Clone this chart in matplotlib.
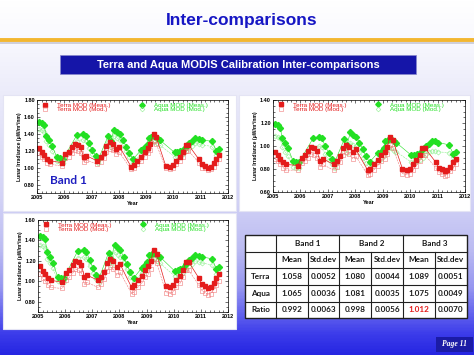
import numpy as np
import matplotlib.pyplot as plt
from matplotlib.patches import Rectangle
from matplotlib.lines import Line2D
from matplotlib.colors import LinearSegmentedColormap
from matplotlib.ticker import MultipleLocator, AutoMinorLocator, FormatStrFormatter

plt.rcParams['font.family'] = ['Liberation Sans', 'DejaVu Sans']

W, H = 474, 355

# lunar observation times (decimal year)
terra_years = [2005.07, 2005.17, 2005.27, 2005.38, 2005.49, 2005.90, 2006.04, 2006.16,
               2006.28, 2006.38, 2006.50, 2006.60, 2006.71, 2006.81, 2007.21, 2007.33,
               2007.44, 2007.54, 2007.66, 2007.78, 2007.90, 2008.02, 2008.45, 2008.55,
               2008.67, 2008.82, 2008.94, 2009.07, 2009.15, 2009.27, 2009.37, 2009.72,
               2009.88, 2009.98, 2010.10, 2010.23, 2010.35, 2010.45, 2010.55, 2010.93,
               2011.04, 2011.16, 2011.26, 2011.36, 2011.47, 2011.57, 2011.67]
aqua_years = [2005.07, 2005.17, 2005.26, 2005.34, 2005.44, 2005.55, 2005.73, 2005.83,
              2005.95, 2006.47, 2006.68, 2006.78, 2006.90, 2007.03, 2007.15, 2007.25,
              2007.60, 2007.70, 2007.82, 2007.93, 2008.03, 2008.15, 2008.27, 2008.39,
              2008.52, 2008.82, 2008.92, 2009.03, 2009.09, 2009.19, 2009.29, 2009.40,
              2009.49, 2010.04, 2010.14, 2010.24, 2010.35, 2010.47, 2010.57, 2010.69,
              2010.80, 2010.92, 2011.03, 2011.42, 2011.57, 2011.67]

# band 1
terra_meas_b1 = [1.23, 1.18, 1.15, 1.10, 1.08, 1.06, 1.16, 1.19, 1.24, 1.28, 1.27, 1.24,
                 1.12, 1.14, 1.08, 1.12, 1.17, 1.26, 1.30, 1.28, 1.22, 1.25, 1.01, 1.03,
                 1.08, 1.13, 1.19, 1.23, 1.28, 1.40, 1.36, 1.02, 1.01, 1.03, 1.08, 1.13,
                 1.19, 1.27, 1.27, 1.10, 1.04, 1.02, 1.00, 1.01, 1.05, 1.10, 1.15]
terra_mod_b1 = [1.17, 1.12, 1.10, 1.06, 1.04, 1.02, 1.11, 1.13, 1.17, 1.21, 1.20, 1.17,
                1.07, 1.09, 1.04, 1.07, 1.11, 1.19, 1.22, 1.21, 1.16, 1.18, 0.98, 1.00,
                1.04, 1.08, 1.13, 1.17, 1.21, 1.31, 1.28, 0.99, 0.98, 1.00, 1.04, 1.08,
                1.13, 1.20, 1.20, 1.06, 1.00, 0.99, 0.97, 0.98, 1.01, 1.06, 1.10]
aqua_meas_b1 = [1.54, 1.53, 1.50, 1.38, 1.33, 1.26, 1.12, 1.11, 1.10, 1.39, 1.40, 1.38,
                1.29, 1.21, 1.14, 1.10, 1.37, 1.31, 1.45, 1.42, 1.40, 1.33, 1.25, 1.17,
                1.10, 1.21, 1.23, 1.27, 1.35, 1.36, 1.37, 1.35, 1.33, 1.18, 1.19, 1.20,
                1.21, 1.25, 1.29, 1.32, 1.35, 1.34, 1.33, 1.31, 1.20, 1.22]
aqua_mod_b1 = [1.46, 1.45, 1.42, 1.31, 1.27, 1.20, 1.08, 1.07, 1.06, 1.32, 1.33, 1.31,
               1.23, 1.16, 1.10, 1.06, 1.30, 1.25, 1.38, 1.35, 1.33, 1.27, 1.20, 1.12,
               1.06, 1.16, 1.18, 1.21, 1.29, 1.30, 1.30, 1.29, 1.27, 1.13, 1.14, 1.15,
               1.16, 1.20, 1.23, 1.26, 1.29, 1.28, 1.27, 1.25, 1.15, 1.17]

# band 2
terra_meas_b2 = [0.95, 0.92, 0.89, 0.86, 0.84, 0.83, 0.90, 0.92, 0.96, 0.99, 0.98, 0.96,
                 0.87, 0.89, 0.84, 0.87, 0.91, 0.98, 1.01, 0.99, 0.95, 0.97, 0.79, 0.80,
                 0.84, 0.88, 0.92, 0.95, 0.99, 1.08, 1.05, 0.80, 0.79, 0.80, 0.84, 0.88,
                 0.92, 0.98, 0.98, 0.86, 0.81, 0.80, 0.78, 0.79, 0.82, 0.86, 0.89]
terra_mod_b2 = [0.89, 0.87, 0.84, 0.81, 0.79, 0.79, 0.85, 0.87, 0.90, 0.93, 0.92, 0.90,
                0.82, 0.84, 0.79, 0.82, 0.86, 0.92, 0.95, 0.93, 0.89, 0.91, 0.75, 0.76,
                0.79, 0.83, 0.87, 0.89, 0.93, 1.01, 0.98, 0.76, 0.75, 0.76, 0.79, 0.83,
                0.87, 0.92, 0.92, 0.81, 0.77, 0.76, 0.74, 0.75, 0.78, 0.81, 0.84]
aqua_meas_b2 = [1.19, 1.18, 1.16, 1.07, 1.03, 0.98, 0.87, 0.86, 0.86, 1.07, 1.08, 1.07,
                1.00, 0.94, 0.89, 0.86, 1.06, 1.01, 1.12, 1.10, 1.08, 1.03, 0.97, 0.91,
                0.86, 0.94, 0.95, 0.98, 1.04, 1.05, 1.06, 1.04, 1.03, 0.92, 0.92, 0.93,
                0.94, 0.97, 1.00, 1.02, 1.04, 1.04, 1.03, 1.01, 0.93, 0.95]
aqua_mod_b2 = [1.09, 1.08, 1.07, 0.99, 0.95, 0.91, 0.82, 0.81, 0.81, 0.99, 1.00, 0.99,
               0.93, 0.88, 0.84, 0.81, 0.98, 0.94, 1.03, 1.01, 1.00, 0.95, 0.90, 0.85,
               0.81, 0.88, 0.89, 0.91, 0.96, 0.97, 0.98, 0.96, 0.95, 0.86, 0.86, 0.87,
               0.88, 0.90, 0.93, 0.95, 0.96, 0.96, 0.95, 0.94, 0.87, 0.89]

# band 3
terra_meas_b3 = [1.15, 1.10, 1.07, 1.03, 1.01, 0.99, 1.08, 1.11, 1.16, 1.20, 1.19, 1.16,
                 1.04, 1.06, 1.01, 1.04, 1.09, 1.18, 1.22, 1.20, 1.14, 1.17, 0.94, 0.96,
                 1.01, 1.05, 1.11, 1.15, 1.20, 1.31, 1.27, 0.95, 0.94, 0.96, 1.01, 1.05,
                 1.11, 1.19, 1.19, 1.03, 0.97, 0.95, 0.93, 0.94, 0.98, 1.03, 1.07]
terra_mod_b3 = [1.07, 1.03, 1.00, 0.96, 0.94, 0.93, 1.01, 1.04, 1.08, 1.12, 1.11, 1.08,
                0.97, 0.99, 0.94, 0.97, 1.02, 1.10, 1.14, 1.12, 1.06, 1.09, 0.88, 0.90,
                0.94, 0.98, 1.04, 1.07, 1.12, 1.22, 1.18, 0.89, 0.88, 0.90, 0.94, 0.98,
                1.04, 1.11, 1.11, 0.96, 0.91, 0.89, 0.87, 0.88, 0.92, 0.96, 1.00]
aqua_meas_b3 = [1.44, 1.43, 1.41, 1.29, 1.24, 1.18, 1.04, 1.03, 1.03, 1.30, 1.31, 1.29,
                1.21, 1.13, 1.06, 1.03, 1.28, 1.22, 1.36, 1.33, 1.31, 1.24, 1.17, 1.09,
                1.03, 1.13, 1.15, 1.19, 1.26, 1.27, 1.28, 1.26, 1.24, 1.10, 1.11, 1.12,
                1.13, 1.17, 1.21, 1.23, 1.26, 1.25, 1.24, 1.22, 1.12, 1.14]
aqua_mod_b3 = [1.36, 1.35, 1.33, 1.22, 1.18, 1.13, 1.00, 0.99, 0.99, 1.23, 1.24, 1.22,
               1.15, 1.08, 1.02, 0.99, 1.22, 1.16, 1.29, 1.26, 1.24, 1.18, 1.12, 1.04,
               0.99, 1.08, 1.10, 1.13, 1.20, 1.21, 1.22, 1.20, 1.18, 1.05, 1.06, 1.07,
               1.08, 1.12, 1.15, 1.17, 1.20, 1.19, 1.18, 1.16, 1.07, 1.09]

# table
table_bands = ['Band 1', 'Band 2', 'Band 3']
table_stats = ['Mean', 'Std.dev']
table_rows = ['Terra', 'Aqua', 'Ratio']
terra_row = ['1.058', '0.0052', '1.080', '0.0044', '1.089', '0.0051']
aqua_row = ['1.065', '0.0036', '1.081', '0.0035', '1.075', '0.0049']
ratio_row = ['0.992', '0.0063', '0.998', '0.0056', '1.012', '0.0070']

red = '#e41b1b'
red_l = '#f07a7a'
green = '#22e022'
green_l = '#8ef08e'

fig = plt.figure(figsize=(W / 100, H / 100), dpi=100)

# slide background
bg = fig.add_axes([0, 0, 1, 1])
stops = [(0, '#ffffff'), (40 / H, '#f8f8fe'), (90 / H, '#ececfa'), (200 / H, '#d2d2f6'),
         (250 / H, '#bcbcf2'), (290 / H, '#9494f0'), (315 / H, '#6262ee'),
         (335 / H, '#3c3cea'), (1, '#2626e2')]
cmap = LinearSegmentedColormap.from_list('slide', stops)
bg.imshow(np.linspace(0, 1, 356).reshape(-1, 1), cmap=cmap, extent=(0, W, H, 0),
          aspect='auto', zorder=0)
bg.set_xlim(0, W)
bg.set_ylim(H, 0)
bg.axis('off')

bg.text(242, 21, 'Inter-comparisons', ha='center', va='center', fontsize=12.5,
        fontweight='bold', color='#1616c4')
bg.plot([0, W], [42.5, 42.5], color='#c8c8d4', lw=1.2, zorder=2)
bg.plot([0, W], [39.5, 39.5], color='#f2b630', lw=2.8, zorder=3)
bg.add_patch(Rectangle((60, 55), 356, 19, facecolor='#1515a8', edgecolor='#8888cc',
                       lw=0.5, zorder=2))
bg.text(238, 64.5, 'Terra and Aqua MODIS Calibration Inter-comparisons', ha='center',
        va='center', fontsize=8, fontweight='bold', color='white', zorder=3)

# white panels behind the charts
for x0, y0, x1, y1 in [(3, 95, 236, 211), (239, 95, 470, 211), (3, 213, 236, 329)]:
    bg.add_patch(Rectangle((x0, y0), x1 - x0, y1 - y0, facecolor='white',
                           edgecolor='#e4e4f4', lw=0.8, zorder=2))

# table
cx = [245, 276, 308.3, 339.3, 371.0, 403.3, 435, 466.7]
ry = [235, 251.7, 268.3, 285, 301.7, 317.7]
bg.add_patch(Rectangle((cx[0], ry[0]), cx[-1] - cx[0], ry[-1] - ry[0], facecolor='white',
                       edgecolor='#202020', lw=1.0, zorder=2))
for y in ry[1:-1]:
    bg.plot([cx[0], cx[-1]], [y, y], color='#202020', lw=0.8, zorder=3)
for i, x in enumerate(cx[1:-1], start=1):
    top = ry[0] if i % 2 == 1 else ry[1]
    bg.plot([x, x], [top, ry[-1]], color='#202020', lw=0.8, zorder=3)
tfont = dict(ha='center', va='center', fontsize=5.9, fontweight='bold', color='#1a1a1a',
             family=['Lato', 'DejaVu Sans'], zorder=4)
for i, band in enumerate(table_bands):
    bg.text((cx[1 + 2 * i] + cx[3 + 2 * i]) / 2, (ry[0] + ry[1]) / 2, band, **tfont)
    for j, stat in enumerate(table_stats):
        k = 1 + 2 * i + j
        bg.text((cx[k] + cx[k + 1]) / 2, (ry[1] + ry[2]) / 2, stat, **tfont)
for r, (name, vals) in enumerate(zip(table_rows, [terra_row, aqua_row, ratio_row])):
    yc = (ry[2 + r] + ry[3 + r]) / 2
    bg.text((cx[0] + cx[1]) / 2, yc, name, **tfont)
    for k, v in enumerate(vals):
        c = red if (name == 'Ratio' and k == 4) else '#1a1a1a'
        bg.text((cx[k + 1] + cx[k + 2]) / 2, yc, v, **{**tfont, 'color': c})

# page label
bg.add_patch(Rectangle((436, 337), 37, 15, facecolor='#1b1ba6', edgecolor='none', zorder=2))
bg.text(454.5, 344.5, 'Page 11', ha='center', va='center', fontsize=5.5, color='white',
        style='italic', fontweight='bold', family=['Liberation Serif', 'DejaVu Serif'], zorder=3)


def axes_at(x0, y0, x1, y1):
    return fig.add_axes([x0 / W, 1 - y1 / H, (x1 - x0) / W, (y1 - y0) / H])


def draw_chart(ax, tm, td, am, ad, ylim):
    ax.plot(aqua_years, ad, color=green_l, lw=0.4, ls='--', marker='D', ms=2.6,
            mfc='none', mec=green_l, mew=0.4)
    ax.plot(aqua_years, am, color=green, lw=0.4, marker='D', ms=3.1, mfc=green, mec=green)
    ax.plot(terra_years, td, color=red_l, lw=0.4, ls='--', marker='s', ms=2.6,
            mfc='none', mec=red_l, mew=0.4)
    ax.plot(terra_years, tm, color=red, lw=0.5, marker='s', ms=3.0, mfc=red, mec=red)

    ax.set_xlim(2005, 2012)
    ax.set_ylim(*ylim)
    ax.xaxis.set_major_locator(MultipleLocator(1))
    ax.xaxis.set_minor_locator(AutoMinorLocator(6))
    ax.yaxis.set_major_locator(MultipleLocator(0.2))
    ax.yaxis.set_minor_locator(AutoMinorLocator(4))
    ax.yaxis.set_major_formatter(FormatStrFormatter('%.2f'))
    ax.tick_params(which='both', direction='in', top=True, right=True, labelsize=4,
                   width=0.4, pad=1.5)
    ax.tick_params(which='major', length=2.5)
    ax.tick_params(which='minor', length=1.2)
    for lab in ax.get_xticklabels() + ax.get_yticklabels():
        lab.set_fontweight('bold')
    for s in ax.spines.values():
        s.set_linewidth(0.5)
    ax.set_xlabel('Year', fontsize=4, fontweight='bold', labelpad=0.5)
    ax.set_ylabel('Lunar Irradiance (μW/m²/nm)', fontsize=3.6, fontweight='bold',
                  labelpad=1.5)

    handles = [Line2D([], [], ls='none', marker='s', ms=2.6, color=red),
               Line2D([], [], ls='none', marker='s', ms=2.4, mfc='none', mec=red_l, mew=0.4),
               Line2D([], [], ls='none', marker='D', ms=2.8, color=green),
               Line2D([], [], ls='none', marker='D', ms=2.4, mfc='none', mec=green_l, mew=0.4)]
    labels = ['Terra MOD (Meas.)', 'Terra MOD (Mod.)', 'Aqua MOD (Meas.)', 'Aqua MOD (Mod.)']
    ax.legend(handles, labels, ncol=2, loc='upper left', bbox_to_anchor=(0.026, 0.975),
              frameon=False, fontsize=4.5, handlelength=1, handletextpad=1.4,
              columnspacing=4.6, labelspacing=-0.1, borderpad=0, borderaxespad=0,
              labelcolor=[red, red, green, green])


ax1 = axes_at(37, 100, 228, 193)
draw_chart(ax1, terra_meas_b1, terra_mod_b1, aqua_meas_b1, aqua_mod_b1, (0.7, 1.8))
ax1.text(0.165, 0.13, 'Band 1', transform=ax1.transAxes, ha='center', va='center',
         fontsize=8.5, fontweight='bold', color='#1f1fc0', family=['Lato', 'DejaVu Sans'])

ax2 = axes_at(273, 100, 465, 192)
draw_chart(ax2, terra_meas_b2, terra_mod_b2, aqua_meas_b2, aqua_mod_b2, (0.6, 1.4))

ax3 = axes_at(38, 220, 228, 312)
draw_chart(ax3, terra_meas_b3, terra_mod_b3, aqua_meas_b3, aqua_mod_b3, (0.7, 1.6))

fig.savefig('out.png', dpi=100)
